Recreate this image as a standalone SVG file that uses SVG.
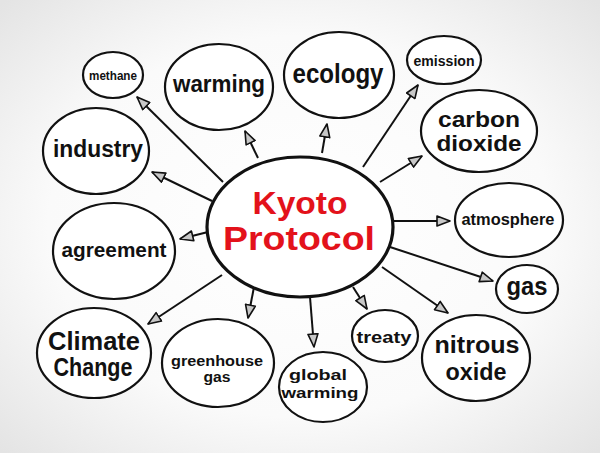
<svg xmlns="http://www.w3.org/2000/svg" width="600" height="453" viewBox="0 0 600 453">
<defs>
<radialGradient id="bg" cx="0.5" cy="0.5" r="0.7">
<stop offset="0" stop-color="#ffffff"/>
<stop offset="0.6" stop-color="#fafafa"/>
<stop offset="1" stop-color="#e4e4e4"/>
</radialGradient>
<marker id="ah" markerUnits="userSpaceOnUse" markerWidth="16" markerHeight="12" refX="14" refY="6" orient="auto" viewBox="0 0 16 12">
<path d="M1,1 L14,6 L1,11 Z" fill="#c8c8c8" stroke="#111" stroke-width="1.6" stroke-linejoin="round"/>
</marker>
<style>
.n{fill:#fff;stroke:#111;stroke-width:2.2}
.c{fill:#fff;stroke:#111;stroke-width:3.2}
.t{font-family:"Liberation Sans",Arial,sans-serif;font-weight:700;fill:#111;text-anchor:middle}
.k{font-family:"Liberation Sans",Arial,sans-serif;font-weight:700;fill:#e3121b;text-anchor:middle}
.a{stroke:#111;stroke-width:2;fill:none;marker-end:url(#ah)}
</style>
</defs>
<rect width="600" height="453" fill="url(#bg)"/>
<g id="connectors">
<line class="a" x1="223" y1="182" x2="137" y2="97"/>
<line class="a" x1="258" y1="158" x2="245" y2="131"/>
<line class="a" x1="212" y1="201" x2="152" y2="172"/>
<line class="a" x1="322" y1="153" x2="327" y2="124"/>
<line class="a" x1="363" y1="167" x2="418" y2="85"/>
<line class="a" x1="380" y1="182" x2="422" y2="156"/>
<line class="a" x1="393" y1="221" x2="450" y2="221"/>
<line class="a" x1="390" y1="247" x2="493" y2="281"/>
<line class="a" x1="382" y1="267" x2="448" y2="313"/>
<line class="a" x1="353" y1="287" x2="367" y2="309"/>
<line class="a" x1="310" y1="297" x2="314" y2="347"/>
<line class="a" x1="254" y1="287" x2="248" y2="318"/>
<line class="a" x1="222" y1="275" x2="148" y2="324"/>
<line class="a" x1="208" y1="232" x2="180" y2="239"/>
</g>
<g id="center">
<ellipse class="c" cx="300" cy="227" rx="93" ry="70"/>
<text class="k" x="300" y="214" font-size="32" textLength="95" lengthAdjust="spacingAndGlyphs">Kyoto</text>
<text class="k" x="299" y="250" font-size="33" textLength="152" lengthAdjust="spacingAndGlyphs">Protocol</text>
</g>
<g id="methane">
<ellipse class="n" cx="113" cy="75" rx="30" ry="23"/>
<text class="t" x="113" y="80" font-size="12" textLength="48" lengthAdjust="spacingAndGlyphs">methane</text>
</g>
<g id="warming">
<ellipse class="n" cx="219" cy="87" rx="54" ry="43"/>
<text class="t" x="219" y="92" font-size="24" textLength="92" lengthAdjust="spacingAndGlyphs">warming</text>
</g>
<g id="ecology">
<ellipse class="n" cx="339" cy="75" rx="55" ry="43"/>
<text class="t" x="338" y="83" font-size="27" textLength="91" lengthAdjust="spacingAndGlyphs">ecology</text>
</g>
<g id="emission">
<ellipse class="n" cx="444" cy="60" rx="37" ry="24"/>
<text class="t" x="444" y="66" font-size="14" textLength="61" lengthAdjust="spacingAndGlyphs">emission</text>
</g>
<g id="carbon-dioxide">
<ellipse class="n" cx="479" cy="131" rx="58" ry="41"/>
<text class="t" x="479" y="127" font-size="22" textLength="82" lengthAdjust="spacingAndGlyphs">carbon</text>
<text class="t" x="479" y="151" font-size="22" textLength="85" lengthAdjust="spacingAndGlyphs">dioxide</text>
</g>
<g id="atmosphere">
<ellipse class="n" cx="509" cy="220" rx="54" ry="37"/>
<text class="t" x="508" y="225" font-size="17" textLength="93" lengthAdjust="spacingAndGlyphs">atmosphere</text>
</g>
<g id="gas">
<ellipse class="n" cx="527" cy="289" rx="31" ry="24"/>
<text class="t" x="527" y="295" font-size="25" textLength="41" lengthAdjust="spacingAndGlyphs">gas</text>
</g>
<g id="nitrous-oxide">
<ellipse class="n" cx="476" cy="358" rx="54" ry="43"/>
<text class="t" x="477" y="353" font-size="23" textLength="85" lengthAdjust="spacingAndGlyphs">nitrous</text>
<text class="t" x="476" y="380" font-size="23" textLength="61" lengthAdjust="spacingAndGlyphs">oxide</text>
</g>
<g id="treaty">
<ellipse class="n" cx="385" cy="336" rx="33" ry="26"/>
<text class="t" x="384" y="343" font-size="17" textLength="55" lengthAdjust="spacingAndGlyphs">treaty</text>
</g>
<g id="global-warming">
<ellipse class="n" cx="323" cy="387" rx="44" ry="35"/>
<text class="t" x="318" y="380" font-size="15" textLength="58" lengthAdjust="spacingAndGlyphs">global</text>
<text class="t" x="320" y="398" font-size="15" textLength="77" lengthAdjust="spacingAndGlyphs">warming</text>
</g>
<g id="greenhouse-gas">
<ellipse class="n" cx="218" cy="363" rx="56" ry="44"/>
<text class="t" x="217" y="366" font-size="14" textLength="92" lengthAdjust="spacingAndGlyphs">greenhouse</text>
<text class="t" x="217" y="382" font-size="14" textLength="27" lengthAdjust="spacingAndGlyphs">gas</text>
</g>
<g id="climate-change">
<ellipse class="n" cx="94" cy="353" rx="57" ry="45"/>
<text class="t" x="94" y="350" font-size="25" textLength="92" lengthAdjust="spacingAndGlyphs">Climate</text>
<text class="t" x="93" y="376" font-size="25" textLength="79" lengthAdjust="spacingAndGlyphs">Change</text>
</g>
<g id="agreement">
<ellipse class="n" cx="114" cy="251" rx="61" ry="48"/>
<text class="t" x="114" y="257" font-size="20" textLength="105" lengthAdjust="spacingAndGlyphs">agreement</text>
</g>
<g id="industry">
<ellipse class="n" cx="96" cy="151" rx="53" ry="43"/>
<text class="t" x="98" y="157" font-size="23" textLength="90" lengthAdjust="spacingAndGlyphs">industry</text>
</g>
</svg>
